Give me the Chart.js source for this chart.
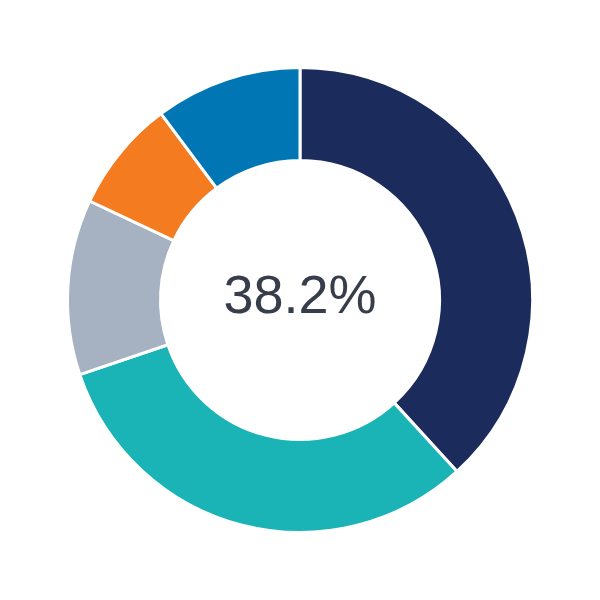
<!DOCTYPE html>
<html>
<head>
<meta charset="utf-8">
<script src="https://cdn.jsdelivr.net/npm/chart.js@4"></script>
<style>
  html, body { margin: 0; padding: 0; background: #fff; }
  #wrap { width: 600px; height: 600px; }
</style>
</head>
<body>
<div id="wrap"><canvas id="donut"></canvas></div>
<script>
/* data */
const labels = ["Segment A", "Segment B", "Segment C", "Segment D", "Segment E"];
const values = [38.2, 31.6, 12.2, 7.8, 10.2];
const colors = ["#1b2b5b", "#1ab3b6", "#a6b2c2", "#f47b20", "#0176b5"];
const centerLabel = "38.2%";

/* center text */
const centerText = {
  id: "centerText",
  afterDraw(chart) {
    const meta = chart.getDatasetMeta(0);
    const arc = meta.data[0];
    if (!arc) return;
    const ctx = chart.ctx;
    ctx.save();
    ctx.font = "54px 'Liberation Sans', Arial, sans-serif";
    ctx.fillStyle = "#373d4a";
    ctx.textAlign = "center";
    ctx.textBaseline = "middle";
    ctx.fillText(centerLabel, arc.x, arc.y - 2);
    ctx.restore();
  }
};

new Chart(document.getElementById("donut"), {
  type: "doughnut",
  data: {
    labels: labels,
    datasets: [{
      data: values,
      backgroundColor: colors,
      borderColor: "#ffffff",
      borderWidth: 3
    }]
  },
  options: {
    responsive: true,
    maintainAspectRatio: false,
    animation: false,
    cutout: "60%",
    layout: { padding: 66 },
    plugins: {
      legend: { display: false },
      tooltip: { enabled: false }
    }
  },
  plugins: [centerText]
});
</script>
</body>
</html>
